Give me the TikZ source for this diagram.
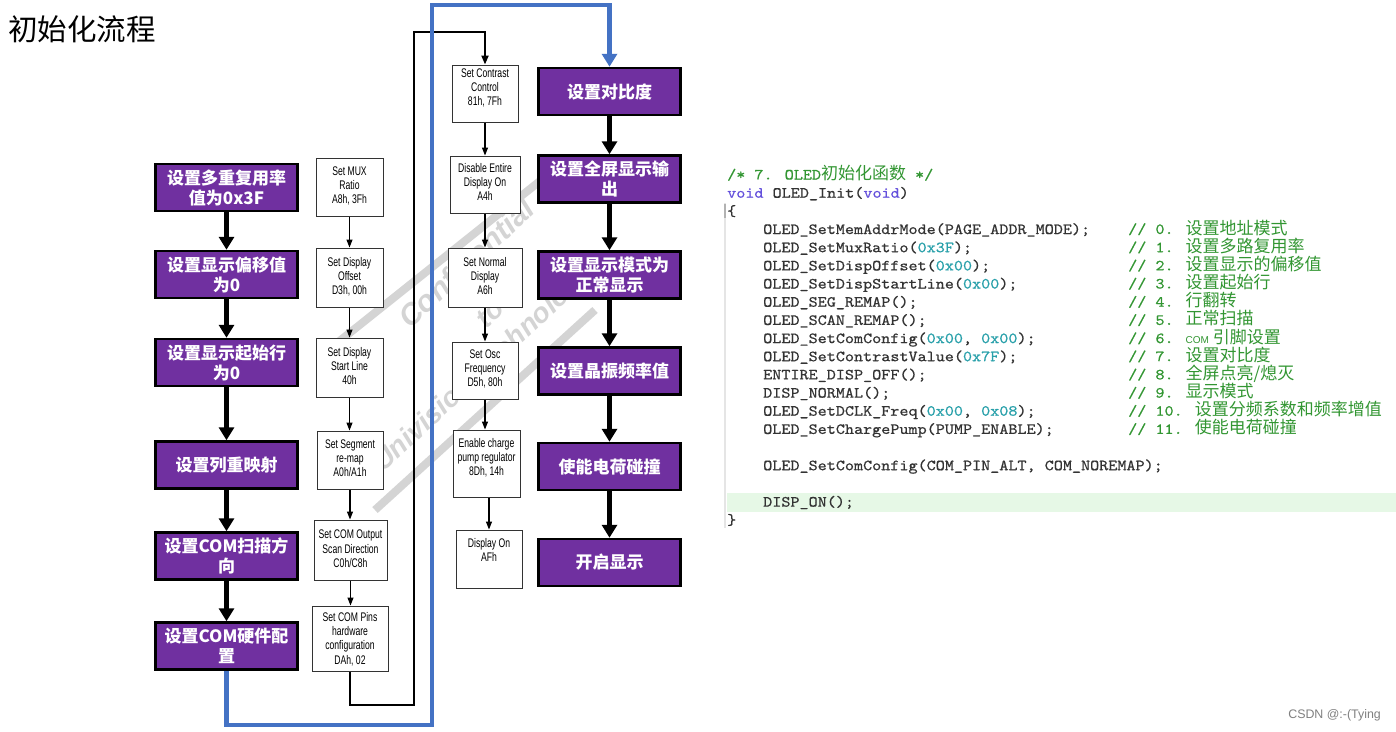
\documentclass[tikz,border=0pt]{standalone}
\usepackage{fontspec}
\usetikzlibrary{arrows.meta}
\setmainfont{Liberation Sans}
\newfontfamily\cjk{Noto Sans CJK SC}
\newfontfamily\narrow{Liberation Sans}[FakeStretch=0.69]
\newfontfamily\mono{lmmono10-regular.otf}[FakeStretch=1.116, FakeBold=0.6]
\definecolor{oledpurple}{HTML}{7030A0}
\definecolor{linkblue}{HTML}{4472C4}
\definecolor{cgreen}{RGB}{50,150,50}
\definecolor{ckey}{RGB}{100,80,220}
\definecolor{cnum}{RGB}{40,160,170}
\definecolor{ctext}{RGB}{51,51,51}
\definecolor{hlgreen}{RGB}{230,248,230}
\definecolor{wmgray}{RGB}{212,212,212}
\newcommand\cdkw[1]{\textcolor{ckey}{#1}}
\newcommand\cdnum[1]{\textcolor{cnum}{#1}}
\newcommand\cjkc{\cjk\fontsize{17}{18}\selectfont}
\newcommand\cmline[2]{\textcolor{cgreen}{#1{\cjkc #2}}}
\newcommand\smalltxt[4]{\parbox[c][#2][t]{#1}{\centering\vspace*{#3}#4}}
\tikzset{
  pbox/.style={draw=black, line width=2.5pt, fill=oledpurple, text=white,
    minimum width=142pt, minimum height=47pt, inner sep=0pt, align=center,
    font=\cjk\bfseries\fontsize{17}{20}\selectfont},
  sbox/.style={draw=black!80, line width=1pt, fill=white, inner sep=0pt,
    font=\narrow\fontsize{12.5}{14.3}\selectfont},
  bigarrow/.style={line width=5pt, -{Triangle[width=15pt,length=13pt]}},
  thinarrow/.style={line width=1.2pt, -{Triangle[width=6pt,length=8pt]}},
  blueline/.style={draw=linkblue, line width=4.5pt, -{Triangle[width=15pt,length=13pt]}},
  blackline/.style={line width=2pt, -{Triangle[width=7pt,length=9pt]}},
  code/.style={anchor=base west, inner sep=0pt, text=ctext,
    font=\mono\fontsize{15.5}{18}\selectfont},
  wmtext/.style={text=wmgray, inner sep=0pt, rotate=43,
    font=\bfseries\itshape\fontsize{28}{30}\selectfont},
  band/.style={draw=wmgray, line width=8pt}
}
\begin{document}
\begin{tikzpicture}[x=1pt,y=-1pt]
\useasboundingbox (0,0) rectangle (1396,731);
\fill[white] (0,0) rectangle (1396,731);

% watermark
\draw[band] (322,355) -- (545,177);
\draw[band] (375,510) -- (595,310);
\node[wmtext, anchor=base west, font=\bfseries\itshape\fontsize{30}{32}\selectfont] (wm1) at (410,330) {Confidential};
\node[wmtext, anchor=base] (wm2) at (496,320) {to};
\node[wmtext, anchor=base west] (wm3) at (383,473) {Univision Technology};

% title
\node[anchor=west, inner sep=0pt, font=\cjk\fontsize{29.5}{31}\selectfont] (title) at (8,29) {初始化流程};

% left purple column
\node[pbox] (L1) at (226.5,187.5) {设置多重复用率\\值为0x3F};
\node[pbox] (L2) at (226.5,274.5) {设置显示偏移值\\为0};
\node[pbox] (L3) at (226.5,362.5) {设置显示起始行\\为0};
\node[pbox] (L4) at (226.5,465) {设置列重映射};
\node[pbox] (L5) at (226.5,556) {设置COM扫描方\\向};
\node[pbox] (L6) at (226.5,646) {设置COM硬件配\\置};
\foreach \a/\b in {L1/L2,L2/L3,L3/L4,L4/L5,L5/L6}
  \draw[bigarrow] (\a) -- (\b);

% right purple column
\node[pbox] (R1) at (609.5,91.5) {设置对比度};
\node[pbox] (R2) at (609.5,179) {设置全屏显示输\\出};
\node[pbox] (R3) at (609.5,275) {设置显示模式为\\正常显示};
\node[pbox] (R4) at (609.5,371) {设置晶振频率值};
\node[pbox] (R5) at (609.5,466.5) {使能电荷碰撞};
\node[pbox] (R6) at (609.5,562.5) {开启显示};
\foreach \a/\b in {R1/R2,R2/R3,R3/R4,R4/R5,R5/R6}
  \draw[bigarrow] (\a) -- (\b);

% small boxes column 1
\node[sbox] (mux) at (349.5,187) {\smalltxt{67pt}{58pt}{8.3pt}{Set MUX\\Ratio\\A8h, 3Fh}};
\node[sbox] (offs) at (349.5,277.5) {\smalltxt{67pt}{59pt}{9.3pt}{Set Display\\Offset\\D3h, 00h}};
\node[sbox] (sline) at (349.5,367.5) {\smalltxt{67pt}{59pt}{9.3pt}{Set Display\\Start Line\\40h}};
\node[sbox] (segm) at (350,460) {\smalltxt{66pt}{58pt}{8.3pt}{Set Segment\\re-map\\A0h/A1h}};
\node[sbox] (comout) at (350.5,550) {\smalltxt{73pt}{60pt}{10pt}{Set COM Output\\Scan Direction\\C0h/C8h}};
\node[sbox] (compins) at (350,638.5) {\smalltxt{76pt}{65pt}{6.3pt}{Set COM Pins\\hardware\\configuration\\DAh, 02}};
\foreach \a/\b in {mux/offs,offs/sline,sline/segm,segm/comout,comout/compins}
  \draw[thinarrow] (\a.south) -- (\a.south |- \b.north);

% small boxes column 2
\node[sbox] (contr) at (485,93.5) {\smalltxt{66pt}{57pt}{3.5pt}{Set Contrast\\Control\\81h, 7Fh}};
\node[sbox] (disall) at (485,184.5) {\smalltxt{70pt}{57pt}{7.3pt}{Disable Entire\\Display On\\A4h}};
\node[sbox] (norm) at (485,277.5) {\smalltxt{74pt}{59pt}{9.3pt}{Set Normal\\Display\\A6h}};
\node[sbox] (osc) at (485,370.5) {\smalltxt{66pt}{57pt}{7.3pt}{Set Osc\\Frequency\\D5h, 80h}};
\node[sbox] (pump) at (486.5,463.5) {\smalltxt{67pt}{67pt}{8.3pt}{Enable charge\\pump regulator\\8Dh, 14h}};
\node[sbox] (dispon) at (489,559) {\smalltxt{66pt}{58pt}{8.3pt}{Display On\\AFh}};
\foreach \a/\b in {contr/disall,disall/norm,norm/osc,osc/pump}
  \draw[thinarrow] (\a.south) -- (\a.south |- \b.north);
\draw[thinarrow] (dispon.north |- pump.south) -- (dispon.north);

% black connector from column 1 to column 2
\coordinate (k1) at (414,705);
\coordinate (k2) at (414,32);
\draw[blackline] (compins.south) |- (k1) -- (k2) -| (contr.north);

% blue connector from left to right purple column
\coordinate (b1) at (432,725);
\coordinate (b2) at (432,5);
\draw[blueline] (L6.south) |- (b1) -- (b2) -| (R1.north);

% code
\fill[hlgreen] (727,493) rectangle (1396,512);
\draw[gray!20, line width=1.5pt] (725,203) -- (725,528);
\draw[gray!60, line width=1.5pt] (725,204) -- (725,218);
\node[code] (c0) at (727,179.5) {\textcolor{cgreen}{/* 7. OLED{\cjkc 初始化函数} */}};
\node[code] (c1) at (727,197.7) {\cdkw{void} OLED\_Init(\cdkw{void})};
\node[code] (c2) at (727,215.8) {\{};
\node[code] (c3) at (763,234) {OLED\_SetMemAddrMode(PAGE\_ADDR\_MODE);};
\node[code] (c4) at (763,252.2) {OLED\_SetMuxRatio(\cdnum{0x3F});};
\node[code] (c5) at (763,270.4) {OLED\_SetDispOffset(\cdnum{0x00});};
\node[code] (c6) at (763,288.5) {OLED\_SetDispStartLine(\cdnum{0x00});};
\node[code] (c7) at (763,306.7) {OLED\_SEG\_REMAP();};
\node[code] (c8) at (763,324.9) {OLED\_SCAN\_REMAP();};
\node[code] (c9) at (763,343.1) {OLED\_SetComConfig(\cdnum{0x00}, \cdnum{0x00});};
\node[code] (c10) at (763,361.2) {OLED\_SetContrastValue(\cdnum{0x7F});};
\node[code] (c11) at (763,379.4) {ENTIRE\_DISP\_OFF();};
\node[code] (c12) at (763,397.6) {DISP\_NORMAL();};
\node[code] (c13) at (763,415.7) {OLED\_SetDCLK\_Freq(\cdnum{0x00}, \cdnum{0x08});};
\node[code] (c14) at (763,433.9) {OLED\_SetChargePump(PUMP\_ENABLE);};
\node[code] (c16) at (763,470.2) {OLED\_SetComConfig(COM\_PIN\_ALT, COM\_NOREMAP);};
\node[code] (c18) at (763,506.6) {DISP\_ON();};
\node[code] (c19) at (727,524.7) {\}};
% comments
\node[code] (m3) at (1128,234) {\cmline{// 0. }{设置地址模式}};
\node[code] (m4) at (1128,252.2) {\cmline{// 1. }{设置多路复用率}};
\node[code] (m5) at (1128,270.4) {\cmline{// 2. }{设置显示的偏移值}};
\node[code] (m6) at (1128,288.5) {\cmline{// 3. }{设置起始行}};
\node[code] (m7) at (1128,306.7) {\cmline{// 4. }{行翻转}};
\node[code] (m8) at (1128,324.9) {\cmline{// 5. }{正常扫描}};
\node[code] (m9) at (1128,343.1) {\cmline{// 6. }{{\rmfamily\fontsize{10}{12}\selectfont COM} 引脚设置}};
\node[code] (m10) at (1128,361.2) {\cmline{// 7. }{设置对比度}};
\node[code] (m11) at (1128,379.4) {\cmline{// 8. }{全屏点亮/熄灭}};
\node[code] (m12) at (1128,397.6) {\cmline{// 9. }{显示模式}};
\node[code] (m13) at (1128,415.7) {\cmline{// 10. }{设置分频系数和频率增值}};
\node[code] (m14) at (1128,433.9) {\cmline{// 11. }{使能电荷碰撞}};

\node[anchor=base east, inner sep=0pt, text=gray, font=\fontsize{12.4}{14}\selectfont] (csdn) at (1381,718.5) {CSDN @:-(Tying};
\end{tikzpicture}
\end{document}
